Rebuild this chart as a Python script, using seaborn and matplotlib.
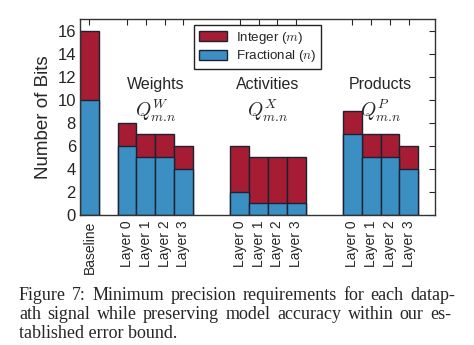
import matplotlib
matplotlib.use("Agg")
import matplotlib.pyplot as plt
import matplotlib.patches as mpatches
import seaborn as sns
import pandas as pd

# ---------------- data ----------------
tick_labels = ["Baseline",
               "Layer 0", "Layer 1", "Layer 2", "Layer 3",
               "Layer 0", "Layer 1", "Layer 2", "Layer 3",
               "Layer 0", "Layer 1", "Layer 2", "Layer 3"]
frac_bits = [10, 6, 5, 5, 4, 2, 1, 1, 1, 7, 5, 5, 4]
int_bits = [6, 2, 2, 2, 2, 4, 4, 4, 4, 2, 2, 2, 2]
group_sizes = [1, 4, 4, 4]
group_gaps = [1, 2, 2]          # empty slots before each following group
group_titles = ["Weights", "Activities", "Products"]
group_math = [r"$Q^{W}_{m.\!n}$", r"$Q^{X}_{m.\!n}$", r"$Q^{P}_{m.\!n}$"]
caption_lines = [
    "Figure 7: Minimum precision requirements for each datap-",
    "ath signal while preserving model accuracy within our es-",
    "tablished error bound.",
]

RED = "#a61c32"
BLUE = "#3b8fc2"
EDGE = "#1a2233"

# ---------------- layout ----------------
positions = []
group_centers = []
slot = 0
for gi, n in enumerate(group_sizes):
    if gi > 0:
        slot += group_gaps[gi - 1]
    start = slot
    for k in range(n):
        positions.append(slot + 0.5)
        slot += 1
    group_centers.append((start + slot) / 2)

df = pd.DataFrame({
    "x": positions,
    "frac": frac_bits,
    "total": [f + i for f, i in zip(frac_bits, int_bits)],
    "label": tick_labels,
})

sns.set_style("ticks", {"xtick.direction": "in", "ytick.direction": "in",
                        "axes.edgecolor": "#333333"})
plt.rcParams["font.family"] = ["Liberation Sans", "DejaVu Sans"]
plt.rcParams["mathtext.fontset"] = "cm"

fig = plt.figure(figsize=(4.74, 3.45), dpi=100)
ax = fig.add_axes([0.169, 0.377, 0.749, 0.567])

sns.barplot(data=df, x="x", y="total", native_scale=True, width=1,
            color=RED, saturation=1, edgecolor=EDGE, linewidth=1,
            errorbar=None, ax=ax)
sns.barplot(data=df, x="x", y="frac", native_scale=True, width=1,
            color=BLUE, saturation=1, edgecolor=EDGE, linewidth=1,
            errorbar=None, ax=ax)

ax.set_xlim(0, slot + 0.9)
ax.set_ylim(0, 17)
ax.set_yticks(range(0, 17, 2))
ax.set_xticks(positions)
ax.set_xticklabels(tick_labels, rotation=90, fontsize=10)
ax.tick_params(axis="y", labelsize=12, length=4, width=0.8,
               right=True, direction="in", pad=3)
ax.tick_params(axis="x", length=4, width=0.8, top=True, direction="in", pad=4)
ax.set_xlabel("")
ax.set_ylabel("Number of Bits", fontsize=13.5, labelpad=4)
for sp in ax.spines.values():
    sp.set_linewidth(1.0)
    sp.set_visible(True)

for c, t, m in zip(group_centers[1:], group_titles, group_math):
    ax.text(c, 11.3, t, ha="center", va="center", fontsize=11.5)
    ax.text(c, 9.0, m, ha="center", va="center", fontsize=14)

handles = [mpatches.Patch(facecolor=RED, edgecolor=EDGE, label=r"Integer ($m$)"),
           mpatches.Patch(facecolor=BLUE, edgecolor=EDGE, label=r"Fractional ($n$)")]
leg = ax.legend(handles=handles, loc="upper center", bbox_to_anchor=(0.5, 0.971),
                borderaxespad=0, fontsize=9.6, fancybox=False, frameon=True,
                edgecolor="#222222", framealpha=1, handlelength=2.1,
                handleheight=0.75, borderpad=0.35, labelspacing=0.2,
                handletextpad=0.7)
leg.get_frame().set_linewidth(1.0)

# ---------------- caption (justified) ----------------
W, H = 474, 345
x0 = 19
line_right = [455, 451, None]
baselines = [300, 319, 338]
cap_font = dict(family=["Liberation Serif", "DejaVu Serif"], fontsize=13)
fig.canvas.draw()
renderer = fig.canvas.get_renderer()
for line, right, yb in zip(caption_lines, line_right, baselines):
    if right is None:
        fig.text(x0 / W, 1 - yb / H, line, ha="left", va="baseline", **cap_font)
        continue
    words = line.split(" ")
    texts = [fig.text(0, 0, w, ha="left", va="baseline", **cap_font) for w in words]
    widths = [t.get_window_extent(renderer).width for t in texts]
    gap = (right - x0 - sum(widths)) / (len(words) - 1)
    x = x0
    for t, wdt in zip(texts, widths):
        t.set_position((x / W, 1 - yb / H))
        x += wdt + gap

fig.savefig("out.png", dpi=100)
